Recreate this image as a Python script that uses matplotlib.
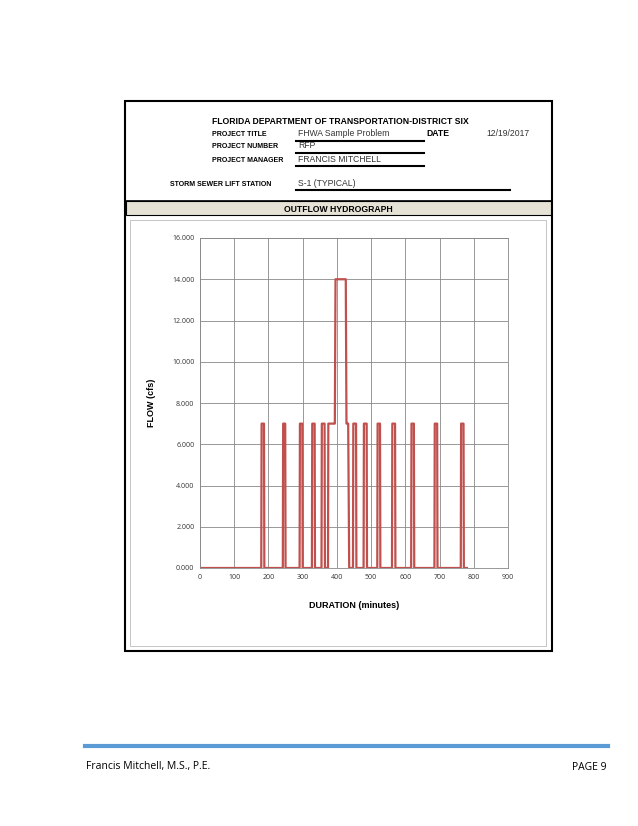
import matplotlib
matplotlib.use("Agg")
import matplotlib.pyplot as plt
from matplotlib.patches import Rectangle
from matplotlib.lines import Line2D

# Data
time_min = [0, 179, 180, 187, 188, 242, 243, 249, 250, 291, 292, 299, 300, 327, 328, 335, 336,
            355, 356, 364, 365, 374, 375, 392, 394, 396, 426, 428, 430, 433, 436,
            447, 448, 456, 457, 478, 479, 487, 488, 518, 519, 526, 527, 561, 562, 570, 571,
            617, 618, 625, 626, 685, 686, 693, 694, 762, 763, 770, 771, 780]
flow_cfs = [0, 0, 7, 7, 0, 0, 7, 7, 0, 0, 7, 7, 0, 0, 7, 7, 0,
            0, 7, 7, 0, 0, 7, 7, 7, 14, 14, 7, 7, 7, 0,
            0, 7, 7, 0, 0, 7, 7, 0, 0, 7, 7, 0, 0, 7, 7, 0,
            0, 7, 7, 0, 0, 7, 7, 0, 0, 7, 7, 0, 0]
x_ticks = [0, 100, 200, 300, 400, 500, 600, 700, 800, 900]
y_ticks = [0, 2, 4, 6, 8, 10, 12, 14, 16]
y_labels = ["0.000", "2.000", "4.000", "6.000", "8.000", "10.000", "12.000", "14.000", "16.000"]

W, H = 638, 826
fig = plt.figure(figsize=(W/100, H/100), dpi=100)
fig.patch.set_facecolor("white")

def fx(x): return x / W
def fy(y): return 1 - y / H

def box(x0, y0, x1, y1, **kw):
    fig.add_artist(Rectangle((fx(x0), fy(y1)), fx(x1) - fx(x0), fy(y0) - fy(y1),
                             transform=fig.transFigure, **kw))

def hline(x0, x1, y, lw=1.5, color="black"):
    fig.add_artist(Line2D([fx(x0), fx(x1)], [fy(y), fy(y)], transform=fig.transFigure, lw=lw, color=color))

def txt(x, y, s, size=6, weight="normal", ha="left", color="black"):
    fig.text(fx(x), fy(y), s, fontsize=size, fontweight=weight, ha=ha, va="center",
             family="Liberation Sans", color=color)

# Outer border
box(125, 101, 552, 651, fill=False, lw=1.5, ec="black")
hline(125, 552, 201, lw=1.2)
box(126, 201, 551, 215, fill=True, fc="#e6e3d6", ec="black", lw=0.8)
box(130, 220, 546, 646, fill=False, lw=0.6, ec="#bbbbbb")

txt(212, 122, "FLORIDA DEPARTMENT OF TRANSPORTATION-DISTRICT SIX", 6.2, "bold")
txt(212, 134, "PROJECT TITLE", 5.0, "bold")
txt(212, 147, "PROJECT NUMBER", 5.0, "bold")
txt(212, 160, "PROJECT MANAGER", 5.0, "bold")
txt(298, 133, "FHWA Sample Problem", 6.2, color="#333333")
txt(298, 146, "RFP", 6.2, color="#333333")
txt(298, 159, "FRANCIS MITCHELL", 6.2, color="#333333")
txt(426, 133, "DATE", 6.2, "bold")
txt(530, 133, "12/19/2017", 6.2, ha="right", color="#333333")
txt(170, 184, "STORM SEWER LIFT STATION", 5.0, "bold")
txt(298, 183, "S-1 (TYPICAL)", 6.2, color="#333333")
hline(296, 424, 141)
hline(296, 424, 153)
hline(296, 424, 166)
hline(296, 510, 190)
txt(338, 209, "OUTFLOW HYDROGRAPH", 6.2, "bold", ha="center")

ax = fig.add_axes([fx(200), fy(568), fx(508) - fx(200), fy(238) - fy(568)])
ax.plot(time_min, flow_cfs, color="#c0504d", lw=1.6)
ax.set_xlim(0, 900)
ax.set_ylim(0, 16)
ax.set_xticks(x_ticks)
ax.set_yticks(y_ticks)
ax.set_yticklabels(y_labels)
ax.tick_params(labelsize=5, length=0, pad=4, colors="#333333")
for l in ax.get_xticklabels() + ax.get_yticklabels():
    l.set_family("Open Sans")
ax.grid(True, color="#888888", lw=0.6)
for s in ax.spines.values():
    s.set_color("#888888"); s.set_linewidth(0.6)
ax.set_axisbelow(True)

fig.text(fx(354), fy(605), "DURATION (minutes)", fontsize=6.5, fontweight="bold",
         ha="center", va="center", family="Liberation Sans")
fig.text(fx(152), fy(403), "FLOW (cfs)", fontsize=6.5, fontweight="bold", rotation=90,
         ha="center", va="center", family="Liberation Sans")

# Footer
hline(85, 608, 746, lw=3, color="#5b9bd5")
fig.text(fx(86), fy(767), "Francis Mitchell, M.S., P.E.", fontsize=7.5, ha="left", va="center", family="Open Sans")
fig.text(fx(606), fy(767), "PAGE 9", fontsize=7.5, ha="right", va="center", family="Open Sans")

fig.savefig("out.png", dpi=100)
